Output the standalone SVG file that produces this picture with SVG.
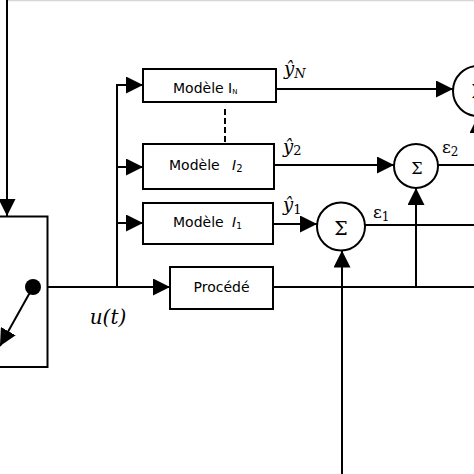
<svg xmlns="http://www.w3.org/2000/svg" width="474" height="474" viewBox="0 0 474 474">
<style>
  .ln{stroke:#000;stroke-width:2;fill:none}
  .arr{marker-end:url(#ah)}
  .box{fill:#fff;stroke:#000;stroke-width:2}
  .sum{fill:#fff;stroke:#000;stroke-width:2}
  .lbl{font-family:"DejaVu Sans",Verdana,sans-serif;font-size:14px;fill:#000}
  .math{font-family:"DejaVu Serif","Liberation Serif",serif;font-style:italic;fill:#000}
  .up{font-family:"DejaVu Serif","Liberation Serif",serif;fill:#000}
</style>
<defs>
  <marker id="ah" viewBox="0 0 17 17" refX="17" refY="8.5" markerWidth="17" markerHeight="17" markerUnits="userSpaceOnUse" orient="auto">
    <path d="M0,0 L17,8.5 L0,17 z" fill="#000"/>
  </marker>
</defs>
<rect width="474" height="474" fill="#fff"/>
<line x1="8" y1="0.5" x2="474" y2="0.5" stroke="#d6d6d6" stroke-width="1.5"/>

<g id="connectors">
  <line class="ln arr" x1="7" y1="0" x2="7" y2="216"/>
  <line class="ln arr" x1="47" y1="287" x2="170" y2="287"/>
  <line class="ln" x1="117" y1="288" x2="117" y2="84"/>
  <line class="ln arr" x1="116" y1="85" x2="143" y2="85"/>
  <line class="ln arr" x1="116" y1="167" x2="143" y2="167"/>
  <line class="ln arr" x1="116" y1="223" x2="143" y2="223"/>
  <line class="ln arr" x1="276" y1="89" x2="453" y2="89"/>
  <line class="ln arr" x1="274" y1="165" x2="394" y2="165"/>
  <line class="ln arr" x1="273" y1="224" x2="317" y2="224"/>
  <line class="ln" x1="365" y1="225" x2="474" y2="225"/>
  <line class="ln" x1="438" y1="165" x2="474" y2="165"/>
  <line class="ln" x1="273" y1="287" x2="474" y2="287"/>
  <line class="ln arr" x1="416" y1="288" x2="416" y2="188"/>
  <line class="ln arr" x1="342" y1="474" x2="342" y2="250.5"/>
  <line class="ln arr" x1="478" y1="474" x2="478" y2="116"/>
  <line class="ln" x1="225" y1="109" x2="225" y2="142" stroke-dasharray="6,3"/>
</g>

<g id="controller">
  <rect class="box" x="-10" y="216.5" width="57.5" height="150.5"/>
  <line class="ln arr" x1="33" y1="287" x2="0" y2="346"/>
  <circle cx="33" cy="287" r="8" fill="#000"/>
</g>

<g id="model-N">
  <rect class="box" x="143" y="69" width="133" height="33"/>
  <text class="lbl" x="173" y="93">Modèle I<tspan font-size="7" dy="1">N</tspan></text>
</g>

<g id="model-2">
  <rect class="box" x="143" y="144" width="131" height="45"/>
  <text class="lbl" x="169" y="170">Modèle<tspan x="232" font-style="italic">I</tspan><tspan font-size="10" dy="2">2</tspan></text>
</g>

<g id="model-1">
  <rect class="box" x="143" y="203" width="130" height="41"/>
  <text class="lbl" x="173" y="227">Modèle<tspan x="232" font-style="italic">I</tspan><tspan font-size="9" dy="2">1</tspan></text>
</g>

<g id="process">
  <rect class="box" x="170" y="267" width="103" height="42"/>
  <text class="lbl" x="221.5" y="292" text-anchor="middle">Procédé</text>
</g>

<g id="sum-1">
  <circle class="sum" cx="341" cy="226.5" r="24"/>
  <text class="up" x="341" y="235" font-size="19" text-anchor="middle">Σ</text>
</g>

<g id="sum-2">
  <circle class="sum" cx="416" cy="166" r="22"/>
  <text class="up" x="417" y="174" font-size="16" text-anchor="middle">Σ</text>
</g>

<g id="sum-N">
  <circle class="sum" cx="478" cy="91" r="25"/>
  <text class="up" x="478" y="98" font-size="19" text-anchor="middle">Σ</text>
</g>

<g id="labels">
  <text class="math" x="284" y="75" font-size="18">ŷ<tspan font-size="13" dy="3">N</tspan></text>
  <text class="math" x="283" y="153" font-size="18">ŷ<tspan class="up" font-style="normal" font-size="13" dy="2">2</tspan></text>
  <text class="math" x="283" y="211" font-size="18">ŷ<tspan font-style="normal" font-size="13" dy="3">1</tspan></text>
  <text class="up" x="442" y="153" font-size="17">ε<tspan font-size="12" dy="3">2</tspan></text>
  <text class="up" x="373" y="218" font-size="17">ε<tspan font-size="12" dy="3">1</tspan></text>
  <text class="math" x="108" y="324" font-size="20" text-anchor="middle">u(t)</text>
</g>
</svg>
